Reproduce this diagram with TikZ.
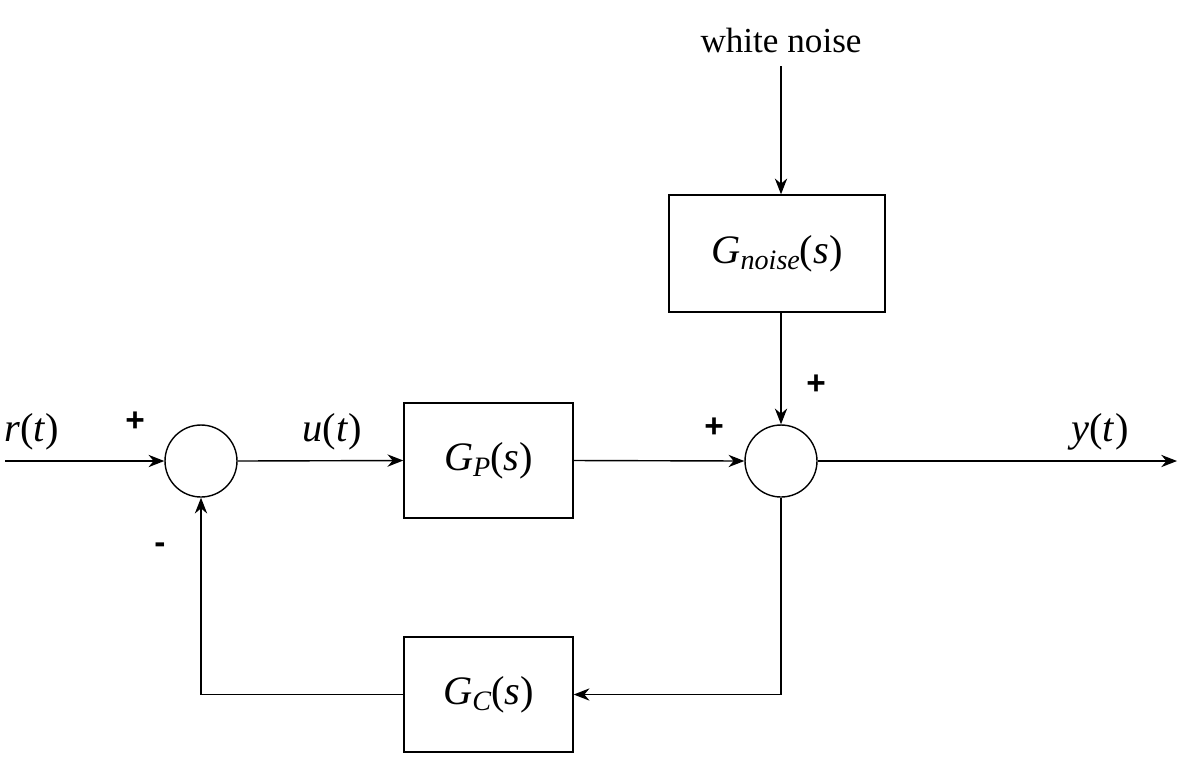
\documentclass[tikz,border=0pt]{standalone}
\usepackage{fontspec}
\setmainfont{Liberation Serif}
\newfontfamily\serf{Liberation Serif}
\newfontfamily\sansf{Liberation Sans}
\usetikzlibrary{arrows.meta}
\newcommand{\sub}[1]{\raisebox{-0.35ex}{\fontsize{16}{16}\selectfont\itshape #1}}
\begin{document}
\begin{tikzpicture}[x=0.02cm,y=-0.02cm,
  blk/.style={draw,line width=0.8pt,minimum width=3.38cm,minimum height=2.3cm,font=\serf\fontsize{23}{23}\selectfont},
  sum/.style={draw,circle,line width=0.8pt,minimum size=1.44cm,inner sep=0},
  lab/.style={font=\serf\fontsize{23}{23}\selectfont},
  sg/.style={font=\sansf\bfseries\fontsize{19}{19}\selectfont},
  ar/.style={line width=0.8pt,-{Stealth[length=9pt,width=7pt]}}]
\useasboundingbox (0,0) rectangle (1185,782);
\node[sum] (s1) at (201,461) {};
\node[sum] (s2) at (781,461) {};
\node[blk] (gp) at (488.5,460.5) {\textit{G}\sub{P}(\textit{s})};
\node[blk,minimum width=4.32cm,minimum height=2.34cm] (gn) at (777,253.5) {\textit{G}\sub{noise}(\textit{s})};
\node[blk] (gc) at (488.5,694.5) {\textit{G}\sub{C}(\textit{s})};
\coordinate (rin) at (5,461);
\coordinate (yout) at (1177,461);
\node[lab] (rt) at (32,432) {\textit{r}(\textit{t})};
\node[lab] (ut) at (332,432) {\textit{u}(\textit{t})};
\node[lab] (yt) at (1100,432) {\textit{y}(\textit{t})};
\node[font=\serf\fontsize{20}{20}\selectfont] (wn) at (781,40) {white noise};
\node[sg] (p1) at (135,422) {+};
\node[sg] (m1) at (160,548) {-};
\node[sg] (p2) at (714,428) {+};
\node[sg] (p3) at (816,385) {+};
\draw[ar] (rin) -- (s1.west);
\draw[ar] (s1.east) -- (gp.west);
\draw[ar] (gp.east) -- (s2.west);
\draw[ar] (s2.east) -- (yout);
\draw[ar] (781,66) -- (gn.north -| s2);
\draw[ar] (gn.south -| s2) -- (s2.north);
\draw[ar] (s2.south) |- (gc.east);
\draw[ar] (gc.west) -| (s1.south);
\end{tikzpicture}
\end{document}
